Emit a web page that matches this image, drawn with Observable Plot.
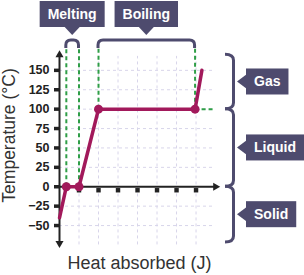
<!DOCTYPE html>
<html><head><meta charset="utf-8">
<script src="https://cdn.jsdelivr.net/npm/d3@7"></script>
<script src="https://cdn.jsdelivr.net/npm/@observablehq/plot@0.6"></script>
<style>
html,body{margin:0;padding:0;background:#fff;}
svg{display:block;}
</style></head><body>
<div id="chart"></div>
<script>
// ---- data ----
const heat = [0, 0.35, 1, 2, 6.95, 7.3];
const temperature = [-40, 0, 0, 100, 100, 150];
const markerIdx = [1, 2, 3, 4];
const yTicks = [150, 125, 100, 75, 50, 25, 0, -25, -50];
const xTicks = [1, 2, 3, 4, 5, 6, 7];
const gridYValues = [150, 125, 100, 75, 50, 25, -25, -50];
const transitionLabels = ["Melting", "Boiling"];
const transitionStart = [0.35, 2];
const transitionEnd = [1, 6.95];
const transitionLevel = [0, 100];
const phaseLabels = ["Gas", "Liquid", "Solid"];
const phaseLow = [100, 0, -72];
const phaseHigh = [170, 100, 0];
const xLabel = "Heat absorbed (J)";
const yLabel = "Temperature (°C)";

// ---- tables ----
const pts = heat.map((h, i) => ({heat: h, temp: temperature[i]}));
const markers = pts.filter((d, i) => markerIdx.includes(i));
const guides = [];
transitionLabels.forEach((l, i) => {
  guides.push({x: transitionStart[i], y: transitionLevel[i]});
  guides.push({x: transitionEnd[i], y: transitionLevel[i]});
});

const lineColor = "#a2195b";
const green = "#2f9e47";
const gridColor = "#d8d5ea";
const ink = "#4e4b6e";
const axisInk = "#222";

const chart = Plot.plot({
  width: 304, height: 275,
  marginLeft: 59, marginRight: 87, marginTop: 52, marginBottom: 29,
  style: {fontFamily: "'Liberation Sans', Arial, sans-serif", background: "#fff"},
  x: {domain: [0, 8.1], axis: null},
  y: {domain: [-77, 173]},
  marks: [
    Plot.ruleX(xTicks, {x: d => d, y1: -75, y2: 168, stroke: gridColor, strokeDasharray: "3,3"}),
    Plot.ruleY(gridYValues, {y: d => d, x1: 0, x2: 8, stroke: gridColor, strokeDasharray: "3,3"}),
    Plot.ruleX(guides, {x: "x", y1: "y", y2: 178, stroke: green, strokeWidth: 2, strokeDasharray: "4,3"}),
    Plot.ruleY([{y: transitionLevel[1], x1: transitionEnd[1]}], {y: "y", x1: "x1", x2: 8, stroke: green, strokeWidth: 2, strokeDasharray: "4,3"}),
    Plot.ruleY([0], {x1: 0, x2: 8, stroke: axisInk, strokeWidth: 2}),
    Plot.ruleX([0], {y1: -73, y2: 170, stroke: axisInk, strokeWidth: 2}),
    Plot.dot([{x: 0, y: 170, a: 0}, {x: 0, y: -73, a: 180}, {x: 8, y: 0, a: 90}],
      {x: "x", y: "y", rotate: "a", symbol: "triangle", r: 3, fill: axisInk}),
    Plot.axisY(yTicks, {tickSize: 5, tickPadding: 5, strokeWidth: 3.5, fontWeight: "bold", fontSize: 12.5, label: null, color: axisInk}),
    Plot.dot(xTicks, {x: d => d, y: 0, dy: 3.5, symbol: "square", r: 2.5, fill: axisInk}),
    Plot.line(pts, {x: "heat", y: "temp", stroke: lineColor, strokeWidth: 3.5, strokeLinejoin: "round"}),
    Plot.dot(markers, {x: "heat", y: "temp", r: 4.5, fill: lineColor})
  ]
});
document.getElementById("chart").appendChild(chart);

// ---- annotations through the plot's scales ----
const sx = chart.scale("x"), sy = chart.scale("y");
const X = sx.apply ? v => sx.apply(v) : d3.scaleLinear(sx.domain, sx.range);
const Y = sy.apply ? v => sy.apply(v) : d3.scaleLinear(sy.domain, sy.range);
const svg = d3.select(chart);
const g = svg.append("g").attr("font-family", "'Liberation Sans', Arial, sans-serif");
const frameRight = X(sx.domain[1]);

function labelBox(parent, cx, cy, text) {
  const grp = parent.append("g");
  const rect = grp.append("rect").attr("fill", ink);
  const t = grp.append("text").attr("x", cx).attr("y", cy).attr("dy", "0.35em")
    .attr("text-anchor", "middle").attr("fill", "#fff").attr("font-weight", "bold")
    .attr("font-size", 14).text(text);
  const w = t.node().getComputedTextLength() + 16;
  rect.attr("x", cx - w / 2).attr("y", cy - 13).attr("width", w).attr("height", 26);
  return w;
}

// top brackets
const bTop = 40, bDrop = 8;
transitionLabels.forEach((label, i) => {
  const x0 = X(transitionStart[i]), x1 = X(transitionEnd[i]);
  const r = Math.min(5, (x1 - x0) / 2);
  g.append("path")
    .attr("d", `M${x0},${bTop + bDrop}V${bTop + r}Q${x0},${bTop} ${x0 + r},${bTop}H${x1 - r}Q${x1},${bTop} ${x1},${bTop + r}V${bTop + bDrop}`)
    .attr("fill", "none").attr("stroke", ink).attr("stroke-width", 3);
  const cx = (x0 + x1) / 2;
  g.append("path").attr("d", `M${cx - 7.5},26V27L${cx},35L${cx + 7.5},27V26Z`).attr("fill", ink);
  labelBox(g, cx, 14, label);
});

// right braces
const bx0 = frameRight + 8, bx1 = frameRight + 16.5;
phaseLabels.forEach((label, i) => {
  const y0 = Y(phaseHigh[i]), y1 = Y(phaseLow[i]);
  const r = 6;
  g.append("path")
    .attr("d", `M${bx0},${y0}Q${bx1},${y0} ${bx1},${y0 + r}V${y1 - r}Q${bx1},${y1} ${bx0},${y1}`)
    .attr("fill", "none").attr("stroke", ink).attr("stroke-width", 3);
  const cy = (y0 + y1) / 2;
  const left = frameRight + 29;
  const grp = g.append("g");
  grp.append("path").attr("d", `M${left + 1},${cy - 7.5}L${frameRight + 20},${cy}L${left + 1},${cy + 7.5}Z`).attr("fill", ink);
  const tmp = grp.append("text").attr("font-weight", "bold").attr("font-size", 14).text(label);
  const w = tmp.node().getComputedTextLength() + 16;
  tmp.remove();
  labelBox(grp, left + w / 2, cy, label);
});

// axis titles
g.append("text").attr("x", 139.5).attr("y", 269).attr("text-anchor", "middle")
  .attr("font-size", 18).attr("fill", "#333").text(xLabel);
g.append("text").attr("transform", `translate(15,${(Y(yTicks[0]) + Y(yTicks[yTicks.length-1]))/2 - 12}) rotate(-90)`)
  .attr("text-anchor", "middle").attr("font-size", 17.5).attr("fill", "#333").text(yLabel);
</script>
</body></html>
